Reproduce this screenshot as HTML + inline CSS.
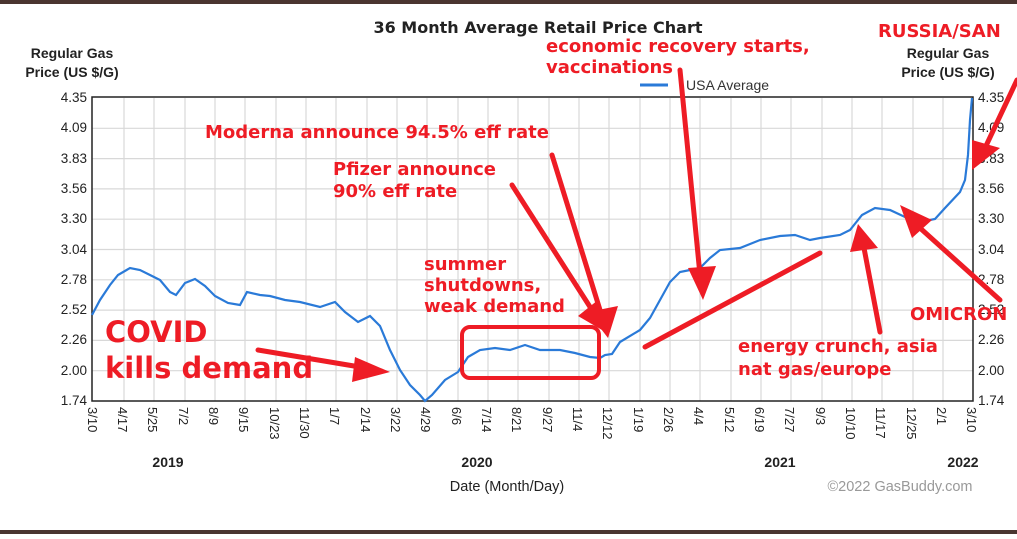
<!DOCTYPE html>
<html><head><style>
body{margin:0;width:1017px;height:534px;overflow:hidden;background:#fff;font-family:"Liberation Sans",Arial,sans-serif}
</style></head><body>
<svg width="1017" height="534" viewBox="0 0 1017 534" xmlns="http://www.w3.org/2000/svg" font-family="Liberation Sans, Arial, sans-serif">
<rect x="0" y="0" width="1017" height="4" fill="#4a3530"/>
<rect x="0" y="530" width="1017" height="4" fill="#4a3530"/>
<g stroke="#d8d8d8" stroke-width="1.2">
<line x1="92" y1="128.3" x2="973" y2="128.3"/><line x1="92" y1="158.6" x2="973" y2="158.6"/><line x1="92" y1="188.9" x2="973" y2="188.9"/><line x1="92" y1="219.2" x2="973" y2="219.2"/><line x1="92" y1="249.5" x2="973" y2="249.5"/><line x1="92" y1="279.8" x2="973" y2="279.8"/><line x1="92" y1="310.1" x2="973" y2="310.1"/><line x1="92" y1="340.4" x2="973" y2="340.4"/><line x1="92" y1="370.7" x2="973" y2="370.7"/>
<line x1="124" y1="98" x2="124" y2="401"/><line x1="154" y1="98" x2="154" y2="401"/><line x1="185" y1="98" x2="185" y2="401"/><line x1="215" y1="98" x2="215" y2="401"/><line x1="245" y1="98" x2="245" y2="401"/><line x1="276" y1="98" x2="276" y2="401"/><line x1="306" y1="98" x2="306" y2="401"/><line x1="336" y1="98" x2="336" y2="401"/><line x1="367" y1="98" x2="367" y2="401"/><line x1="397" y1="98" x2="397" y2="401"/><line x1="427" y1="98" x2="427" y2="401"/><line x1="458" y1="98" x2="458" y2="401"/><line x1="488" y1="98" x2="488" y2="401"/><line x1="518" y1="98" x2="518" y2="401"/><line x1="549" y1="98" x2="549" y2="401"/><line x1="579" y1="98" x2="579" y2="401"/><line x1="609" y1="98" x2="609" y2="401"/><line x1="640" y1="98" x2="640" y2="401"/><line x1="670" y1="98" x2="670" y2="401"/><line x1="700" y1="98" x2="700" y2="401"/><line x1="731" y1="98" x2="731" y2="401"/><line x1="761" y1="98" x2="761" y2="401"/><line x1="791" y1="98" x2="791" y2="401"/><line x1="822" y1="98" x2="822" y2="401"/><line x1="852" y1="98" x2="852" y2="401"/><line x1="882" y1="98" x2="882" y2="401"/><line x1="913" y1="98" x2="913" y2="401"/><line x1="943" y1="98" x2="943" y2="401"/>
</g>
<rect x="92" y="97" width="881" height="304" fill="none" stroke="#222" stroke-width="1.5"/>
<polyline fill="none" stroke="#2a7ad8" stroke-width="2.2" points="92,315 100,300 110,285 118,275 130,268 140,270 150,275 160,280 170,292 176,295 185,283 195,279 205,286 215,296 228,303 240,305 247,292 260,295 270,296 285,300 300,302 320,307 335,302 345,312 358,322 370,316 380,326 390,350 400,370 410,385 420,395 425,401 432,395 445,380 458,372 468,357 480,350 495,348 510,350 525,345 540,350 560,350 575,353 590,357 600,358 605,355 612,354 620,342 640,330 650,318 660,300 670,282 680,272 690,270 700,268 710,258 720,250 740,248 760,240 780,236 795,235 810,240 820,238 840,235 850,230 862,215 875,208 890,210 905,217 920,222 935,219 945,208 960,192 965,180 968,155 970,120 972,98"/>
<g font-size="13.5" fill="#222" text-anchor="end">
<text x="87" y="102">4.35</text><text x="87" y="132">4.09</text><text x="87" y="163">3.83</text><text x="87" y="193">3.56</text><text x="87" y="223">3.30</text><text x="87" y="254">3.04</text><text x="87" y="284">2.78</text><text x="87" y="314">2.52</text><text x="87" y="344">2.26</text><text x="87" y="375">2.00</text><text x="87" y="405">1.74</text>
</g>
<g font-size="13.5" fill="#222">
<text x="978" y="102">4.35</text><text x="978" y="132">4.09</text><text x="978" y="163">3.83</text><text x="978" y="193">3.56</text><text x="978" y="223">3.30</text><text x="978" y="254">3.04</text><text x="978" y="284">2.78</text><text x="978" y="314">2.52</text><text x="978" y="344">2.26</text><text x="978" y="375">2.00</text><text x="978" y="405">1.74</text>
</g>
<g font-size="14" font-weight="bold" fill="#222" text-anchor="middle">
<text x="538" y="33" font-size="16" font-family="DejaVu Sans, sans-serif">36 Month Average Retail Price Chart</text>
<text x="72" y="58">Regular Gas</text><text x="72" y="77">Price (US $/G)</text>
<text x="948" y="58">Regular Gas</text><text x="948" y="77">Price (US $/G)</text>
<text x="168" y="467">2019</text><text x="477" y="467">2020</text><text x="780" y="467">2021</text><text x="963" y="467">2022</text>
</g>
<text x="507" y="491" font-size="14.5" fill="#222" text-anchor="middle">Date (Month/Day)</text>
<text x="900" y="491" font-size="14.5" fill="#999" text-anchor="middle">©2022 GasBuddy.com</text>
<line x1="640" y1="85" x2="668" y2="85" stroke="#2a7ad8" stroke-width="3"/>
<text x="686" y="90" font-size="14" fill="#333">USA Average</text>
<g font-size="13" fill="#222">
<text transform="translate(88,407) rotate(90)">3/10</text><text transform="translate(118,407) rotate(90)">4/17</text><text transform="translate(148,407) rotate(90)">5/25</text><text transform="translate(179,407) rotate(90)">7/2</text><text transform="translate(209,407) rotate(90)">8/9</text><text transform="translate(239,407) rotate(90)">9/15</text><text transform="translate(270,407) rotate(90)">10/23</text><text transform="translate(300,407) rotate(90)">11/30</text><text transform="translate(330,407) rotate(90)">1/7</text><text transform="translate(361,407) rotate(90)">2/14</text><text transform="translate(391,407) rotate(90)">3/22</text><text transform="translate(421,407) rotate(90)">4/29</text><text transform="translate(452,407) rotate(90)">6/6</text><text transform="translate(482,407) rotate(90)">7/14</text><text transform="translate(512,407) rotate(90)">8/21</text><text transform="translate(543,407) rotate(90)">9/27</text><text transform="translate(573,407) rotate(90)">11/4</text><text transform="translate(603,407) rotate(90)">12/12</text><text transform="translate(634,407) rotate(90)">1/19</text><text transform="translate(664,407) rotate(90)">2/26</text><text transform="translate(694,407) rotate(90)">4/4</text><text transform="translate(725,407) rotate(90)">5/12</text><text transform="translate(755,407) rotate(90)">6/19</text><text transform="translate(785,407) rotate(90)">7/27</text><text transform="translate(816,407) rotate(90)">9/3</text><text transform="translate(846,407) rotate(90)">10/10</text><text transform="translate(876,407) rotate(90)">11/17</text><text transform="translate(907,407) rotate(90)">12/25</text><text transform="translate(937,407) rotate(90)">2/1</text><text transform="translate(967,407) rotate(90)">3/10</text>
</g>
<g fill="#ee1c25" stroke="none">
<rect x="462" y="327" width="137" height="51" rx="8" fill="none" stroke="#ee1c25" stroke-width="4"/>
<g stroke="#ee1c25" stroke-width="5" stroke-linecap="round">
<line x1="258" y1="350" x2="360" y2="367"/>
<line x1="552" y1="155" x2="600" y2="310"/>
<line x1="512" y1="185" x2="592" y2="310"/>
<line x1="680" y1="70" x2="700" y2="275"/>
<line x1="645" y1="347" x2="820" y2="253"/>
<line x1="880" y1="332" x2="864" y2="248"/>
<line x1="1000" y1="300" x2="920" y2="228"/>
<line x1="1017" y1="80" x2="985" y2="148"/>
</g>
<polygon points="390,372 355,357 352,382"/>
<polygon points="608,338 588,312 618,306"/>
<polygon points="602,330 578,316 598,300"/>
<polygon points="703,300 688,268 716,266"/>
<polygon points="858,224 850,252 878,248"/>
<polygon points="900,205 912,238 932,220"/>
<polygon points="972,170 972,140 1000,148"/>
</g>
<g font-weight="bold" fill="#ee1c25" font-family="DejaVu Sans, sans-serif">
<text x="105" y="342" font-size="29">COVID</text>
<text x="105" y="378" font-size="29">kills demand</text>
<text x="205" y="138" font-size="18">Moderna announce 94.5% eff rate</text>
<text x="333" y="175" font-size="18">Pfizer announce</text>
<text x="333" y="197" font-size="18">90% eff rate</text>
<text x="424" y="270" font-size="18">summer</text>
<text x="424" y="291" font-size="18">shutdowns,</text>
<text x="424" y="312" font-size="18">weak demand</text>
<text x="546" y="52" font-size="18">economic recovery starts,</text>
<text x="546" y="73" font-size="18">vaccinations</text>
<text x="878" y="37" font-size="18">RUSSIA/SAN</text>
<text x="910" y="320" font-size="18">OMICRON</text>
<text x="738" y="352" font-size="18">energy crunch, asia</text>
<text x="738" y="375" font-size="18">nat gas/europe</text>
</g>
</svg>
</body></html>
